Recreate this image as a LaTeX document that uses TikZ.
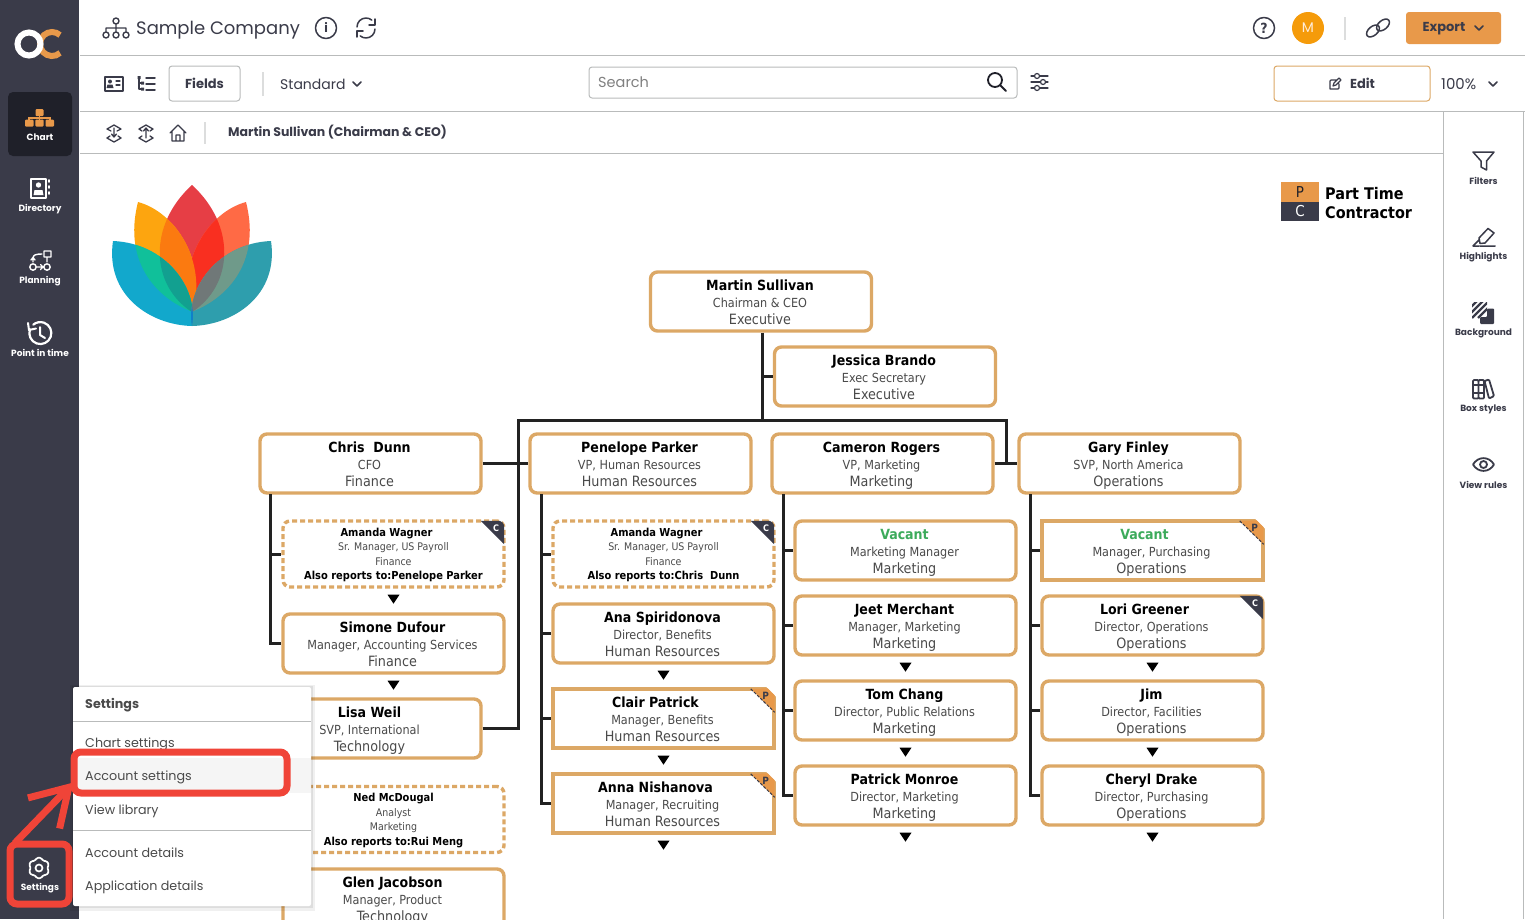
\documentclass[tikz,border=0pt]{standalone}
\usepackage{fontspec}
\setmainfont{DejaVu Sans Condensed}
\newfontfamily\uifont{Poppins}
\usetikzlibrary{arrows.meta,calc}
\definecolor{uidark}{HTML}{3A3B49}
\definecolor{uiblack}{HTML}{1F2029}
\definecolor{tan}{HTML}{DCA866}
\definecolor{uiorange}{HTML}{E8994A}
\definecolor{uigrey}{HTML}{B9BBBB}
\definecolor{redmark}{HTML}{F04438}
\definecolor{linkc}{HTML}{222222}
\definecolor{subtext}{HTML}{4A4A4A}
\definecolor{vacant}{HTML}{3CAB5B}
\definecolor{pY}{HTML}{FDA50F}\definecolor{pC}{HTML}{FF6A45}\definecolor{pR}{HTML}{E63E45}
\definecolor{pYR}{HTML}{FB7A10}\definecolor{pCR}{HTML}{F92F20}
\definecolor{pB}{HTML}{12A8CC}\definecolor{pT}{HTML}{2E9EAD}
\definecolor{pBY}{HTML}{10C09A}\definecolor{pBYR}{HTML}{12A090}
\definecolor{pTC}{HTML}{6F9A8A}\definecolor{pTR}{HTML}{707878}\definecolor{pBT}{HTML}{1080C8}
\tikzset{
  orgbox/.style={draw=tan,line width=3.4pt,rounded corners=7pt,fill=white,minimum width=221pt,minimum height=59pt,inner sep=0pt,align=center,
     font=\fontsize{12.5}{17}\selectfont,text=subtext},
  squarebox/.style={rounded corners=0pt},
  dashbox/.style={orgbox,minimum height=66pt,dash pattern=on 5pt off 3pt,font=\fontsize{10.5}{14.5}\selectfont},
  link/.style={draw=linkc,line width=3pt},
  ico/.style={draw=uidark,line width=1.5pt,line cap=round,line join=round},
  wico/.style={draw=white,line width=1.6pt,line cap=round,line join=round},
  uilabel/.style={inner sep=0pt,text=uidark,yshift=-2pt,font=\uifont\fontsize{14}{16}\selectfont},
  sidelab/.style={inner sep=0pt,text=white,yshift=-1pt,font=\uifont\bfseries\fontsize{9}{11}\selectfont},
  rightlab/.style={inner sep=0pt,text=uidark,font=\uifont\bfseries\fontsize{9}{11}\selectfont},
  menulab/.style={inner sep=0pt,anchor=west,text=subtext,yshift=-2pt,font=\uifont\fontsize{12.7}{16}\selectfont},
  btn/.style={draw=uigrey,line width=1pt,rounded corners=3pt,fill=white,inner sep=0pt},
  legend/.style={inner sep=0pt,anchor=west,text=black,font=\bfseries\fontsize{16}{18}\selectfont},
  redbox/.style={draw=redmark,line width=7pt,rounded corners=7pt,inner sep=0pt},
}
\newcommand\nudge{\hspace*{-2pt}}
\newcommand\nm[1]{{\fontsize{14}{17}\selectfont\bfseries\color{black}\rule{0pt}{16pt}\nudge#1}}
\newcommand\dpt[1]{{\fontsize{14.2}{17}\selectfont\rule[-5pt]{0pt}{5pt}\nudge#1}}
\newcommand\shiftname{\hspace*{-14pt}}
% [opts] name cx cy person title dept
\newcommand\obox[7][]{\node[orgbox,#1] (#2) at (#3,#4) {\nm{#5}\\\nudge#6\\\dpt{#7}};}
\newcommand\dbox[7]{\node[dashbox] (#1) at (#2,#3) {{\fontsize{11}{14.5}\selectfont\bfseries\color{black}\rule{0pt}{13pt}#4}\\#5\\#6\\{\fontsize{11}{14.5}\selectfont\bfseries\color{black}\rule[-5.5pt]{0pt}{5.5pt}Also reports to:#7}};}
\newcommand\ctag[1]{\fill[uidark] ($(#1.north east)+(-25,1.5)$) -- ($(#1.north east)+(-6,1.5)$) to[bend left=25] ($(#1.north east)+(-1.5,6)$) -- ($(#1.north east)+(-1.5,25)$) -- cycle;
  \node[inner sep=0pt,text=white,font=\bfseries\fontsize{9}{9}\selectfont] (#1-c) at ($(#1.north east)+(-9.5,9)$) {C};}
\newcommand\ptag[1]{\fill[white] ($(#1.north east)+(-10,-1)$) -- ($(#1.north east)+(1,-1)$) -- ($(#1.north east)+(1,10)$) -- cycle;
  \fill[uiorange] ($(#1.north east)+(-25,1.5)$) -- ($(#1.north east)+(-8,1)$) -- ($(#1.north east)+(-1,8)$) -- ($(#1.north east)+(-1,25)$) -- cycle;
  \draw[uidark,line width=1pt,dash pattern=on 3pt off 1.5pt] ($(#1.north east)+(-25,1.5)$) -- ($(#1.north east)+(-1,25)$);
  \node[inner sep=0pt,text=uidark,font=\bfseries\fontsize{10}{10}\selectfont] (#1-p) at ($(#1.north east)+(-10,9)$) {P};}
\newcommand\more[1]{\fill[black] ($(#1.south)+(-6,6)$) -- ($(#1.south)+(6,6)$) -- ($(#1.south)+(0,15)$) -- cycle;}
\newcommand\chev[2]{\draw[ico,line width=1.5pt,shift={(#1,#2)}] (-4,-2) -- (0,2) -- (4,-2);}
\def\petY{(138,202) .. controls (175,212) and (207,260) .. (193,312) .. controls (160,300) and (122,265) .. cycle}
\def\petC{(246,202) .. controls (209,212) and (177,260) .. (191,312) .. controls (224,300) and (262,265) .. cycle}
\def\petR{(192,185) .. controls (148,225) and (150,285) .. (192,312) .. controls (234,285) and (236,225) .. cycle}
\def\petB{(113,241) .. controls (165,243) and (199,288) .. (192,326) .. controls (150,325) and (105,295) .. cycle}
\def\petT{(271,241) .. controls (219,243) and (185,288) .. (192,326) .. controls (234,325) and (279,295) .. cycle}
\begin{document}
\begin{tikzpicture}[x=1pt,y=-1pt]
\useasboundingbox (0,0) rectangle (1525,919);
\clip (0,0) rectangle (1525,919);
\fill[white] (0,0) rectangle (1525,919);
% ------------ lotus
\fill[pR] \petR; \fill[pC] \petC; \fill[pY] \petY;
\begin{scope}\clip \petR; \fill[pCR] \petC; \fill[pYR] \petY; \end{scope}
\fill[pB] \petB;
\begin{scope}\clip \petB; \fill[pBY] \petY; \begin{scope}\clip \petY; \fill[pBYR] \petR; \end{scope}\end{scope}
\fill[pT] \petT;
\begin{scope}\clip \petT; \fill[pTC] \petC; \fill[pTR] \petR; \fill[pBT] \petB; \end{scope}
% ------------ legend
\node[fill=uiorange,minimum width=38pt,minimum height=20pt,inner sep=0pt,text=uiblack,font=\fontsize{15}{15}\selectfont] (legP) at (1300,192) {P};
\node[fill=uidark,minimum width=38pt,minimum height=19pt,inner sep=0pt,text=white,font=\fontsize{15}{15}\selectfont] (legC) at (1300,211.5) {C};
\node[legend] (legPt) at (1325,193.5) {Part Time};
\node[legend] (legCt) at (1325,212.5) {Contractor};
% ------------ boxes
\obox{martin}{761}{301.5}{Martin Sullivan}{Chairman \& CEO}{Executive}
\obox{jessica}{885}{376.5}{Jessica Brando}{Exec Secretary}{Executive}
\obox{chris}{370.5}{463.5}{Chris\ \ Dunn}{CFO}{Finance}
\obox{penelope}{640.5}{463.5}{Penelope Parker}{VP, Human Resources}{Human Resources}
\obox{cameron}{882.5}{463.5}{Cameron Rogers}{VP, Marketing}{Marketing}
\obox{gary}{1129.5}{463.5}{Gary Finley}{SVP, North America}{Operations}
\dbox{amandaA}{393.5}{554}{\shiftname Amanda Wagner}{Sr. Manager, US Payroll}{Finance}{Penelope Parker}
\obox{simone}{393.5}{643.5}{Simone Dufour}{Manager, Accounting Services}{Finance}
\obox{lisa}{370.5}{728.5}{Lisa Weil}{SVP, International}{Technology}
\dbox{ned}{393.5}{819.5}{Ned McDougal}{Analyst}{Marketing}{Rui Meng}
\obox{glen}{393.5}{898.5}{Glen Jacobson}{Manager, Product}{Technology}
\dbox{amandaB}{663.5}{554}{\shiftname Amanda Wagner}{Sr. Manager, US Payroll}{Finance}{Chris\ \ Dunn}
\obox{ana}{663.5}{633.5}{Ana Spiridonova}{Director, Benefits}{Human Resources}
\obox[squarebox]{clair}{663.5}{718.5}{\shiftname Clair Patrick}{Manager, Benefits}{Human Resources}
\obox[squarebox]{anna}{663.5}{803.5}{\shiftname Anna Nishanova}{Manager, Recruiting}{Human Resources}
\obox{vacantA}{905.5}{550.5}{\color{vacant}Vacant}{Marketing Manager}{Marketing}
\obox{jeet}{905.5}{625.5}{Jeet Merchant}{Manager, Marketing}{Marketing}
\obox{tom}{905.5}{710.5}{Tom Chang}{Director, Public Relations}{Marketing}
\obox{patrick}{905.5}{795.5}{Patrick Monroe}{Director, Marketing}{Marketing}
\obox[squarebox]{vacantB}{1152.5}{550.5}{\shiftname\color{vacant}Vacant}{Manager, Purchasing}{Operations}
\obox{lori}{1152.5}{625.5}{\shiftname Lori Greener}{Director, Operations}{Operations}
\obox{jim}{1152.5}{710.5}{Jim}{Director, Facilities}{Operations}
\obox{cheryl}{1152.5}{795.5}{Cheryl Drake}{Director, Purchasing}{Operations}
\ctag{amandaA}\ctag{amandaB}\ctag{lori}
\ptag{clair}\ptag{anna}\ptag{vacantB}
\foreach \b in {amandaA,simone,ana,clair,anna,jeet,tom,patrick,lori,jim,cheryl}{\more{\b}}
% ------------ connectors
\coordinate (trunk) at (762,420);
\coordinate (busL) at (518,420);
\coordinate (busR) at (1006,420);
\coordinate (tChris) at (270.5,494);
\coordinate (tLisa) at (270.5,759);
\coordinate (tPen) at (541,494);
\coordinate (tCam) at (783,494);
\coordinate (tGary) at (1030,494);
\draw[link] (martin.south -| trunk) -- (trunk);
\draw[link] (trunk |- jessica.west) -- (jessica.west);
\draw[link,line cap=butt] (lisa.east) -| (busL) -- (busR) |- (gary.west);
\draw[link] (chris.east) -- (penelope.west);
\draw[link] (cameron.east) -- (gary.west);
\draw[link] (tChris) |- (simone.west);
\draw[link] (tChris |- amandaA.west) -- (amandaA.west);
\draw[link] (tLisa) |- (glen.west);
\draw[link] (tPen) |- (anna.west);
\draw[link] (tPen |- amandaB.west) -- (amandaB.west);
\draw[link] (tPen |- ana.west) -- (ana.west);
\draw[link] (tPen |- clair.west) -- (clair.west);
\draw[link] (tCam) |- (patrick.west);
\draw[link] (tCam |- vacantA.west) -- (vacantA.west);
\draw[link] (tCam |- jeet.west) -- (jeet.west);
\draw[link] (tCam |- tom.west) -- (tom.west);
\draw[link] (tGary) |- (cheryl.west);
\draw[link] (tGary |- vacantB.west) -- (vacantB.west);
\draw[link] (tGary |- lori.west) -- (lori.west);
\draw[link] (tGary |- jim.west) -- (jim.west);
% ------------ chrome
\draw[uigrey,line width=1pt] (80,55.5) -- (1525,55.5);
\draw[uigrey,line width=1pt] (80,111.5) -- (1525,111.5);
\draw[uigrey,line width=1pt] (80,153.5) -- (1443.5,153.5);
\draw[uigrey,line width=1pt] (1443.5,111.5) -- (1443.5,919);
\draw[uigrey,line width=1pt] (1523.5,111.5) -- (1523.5,919);
% header
\draw[ico,line width=1.4pt] (116,21) circle (3) (106,35) circle (3) (116,35) circle (3) (126,35) circle (3) (116,24) -- (116,32) (106,32) -- (106,28) -- (126,28) -- (126,32);
\node[uilabel,anchor=west,font=\uifont\fontsize{18}{22}\selectfont] (title) at (136,28) {Sample Company};
\node[ico,circle,minimum size=21pt,inner sep=0pt,text=uidark,font=\bfseries\fontsize{13}{13}\selectfont] (info) at (326,28) {i};
\begin{scope}[shift={(366,28)}]
\draw[ico] (-9,-1) arc[start angle=180,end angle=310,radius=9]; \draw[ico] (9,1) arc[start angle=0,end angle=130,radius=9];
\draw[ico] (9,-9) -- (9,-3) -- (3,-3); \draw[ico] (-9,9) -- (-9,3) -- (-3,3);
\end{scope}
\node[ico,circle,minimum size=21pt,inner sep=0pt,text=uidark,font=\bfseries\fontsize{14}{14}\selectfont] (help) at (1264,28) {?};
\node[circle,fill=orange!75!yellow!85!brown,minimum size=32pt,inner sep=0pt,text=white!85!orange,font=\uifont\fontsize{14}{14}\selectfont] (avatar) at (1308,28) {M};
\draw[uigrey!50,line width=1.5pt] (1345,17) -- (1345,40);
\draw[ico,rotate around={40:(1373,31)}] (1373,31) ellipse [x radius=7.5,y radius=4.5];
\draw[ico,rotate around={40:(1383,25)}] (1383,25) ellipse [x radius=7.5,y radius=4.5];
\node[fill=uiorange,rounded corners=3pt,minimum width=95pt,minimum height=32pt,inner sep=0pt] (export) at (1453.5,28) {};
\node[uilabel,font=\uifont\bfseries\fontsize{13}{15}\selectfont,text=uidark] (exportT) at (1444,27) {Export};
\chev{1479}{28}
% row 2
\draw[ico] (105,77) rectangle (123,91); \fill[uidark] (110,81.5) circle (2) (106.5,88) -- (113.5,88) -- (112.5,84.5) -- (107.5,84.5) -- cycle; \draw[ico,line width=1.2pt] (116,81) -- (120,81) (116,85) -- (120,85);
\draw[ico] (139,77) -- (139,89) -- (141,89) (139,83) -- (141,83) (146,78) -- (155,78) (146,84) -- (155,84) (146,90) -- (155,90); \fill[uidark] (137.5,76) rectangle (140.5,79) (141,81.5) rectangle (144,84.5) (141,87.5) rectangle (144,90.5);
\node[btn,minimum width=71pt,minimum height=35pt,font=\uifont\bfseries\fontsize{13}{15}\selectfont,text=uidark] (fields) at (204.5,83.5) {Fields};
\draw[uigrey!50,line width=1.5pt] (263,72) -- (263,96);
\node[uilabel,anchor=west,font=\uifont\fontsize{14}{17}\selectfont] (standard) at (280,82) {Standard};
\chev{357}{84}
\node[btn,minimum width=428pt,minimum height=31pt] (search) at (803,82.5) {};
\node[uilabel,anchor=west,text=black!50,font=\uifont\fontsize{14.5}{17}\selectfont] (searchT) at (598,80) {Search};
\draw[draw=uiblack,line width=1.8pt,line cap=round] (995,80) circle (7) (1000,85) -- (1006,91);
\draw[ico,line width=1.2pt] (1031,76) -- (1048,76) (1031,82) -- (1048,82) (1031,88) -- (1048,88);
\fill[white] (1037,76) circle (2.5) (1043,82) circle (2.5) (1037,88) circle (2.5);
\draw[ico,line width=1.2pt] (1037,76) circle (2.5) (1043,82) circle (2.5) (1037,88) circle (2.5);
\node[btn,draw=tan,minimum width=156pt,minimum height=35pt] (edit) at (1352,83.5) {};
\draw[ico,line width=1.2pt] (1337,80) -- (1331,80) -- (1330,81) -- (1330,89) -- (1338,89) -- (1339,88) -- (1339,84) (1333,86) -- (1334,83) -- (1339,78) -- (1341,80) -- (1336,85) -- cycle;
\node[uilabel,font=\uifont\bfseries\fontsize{13}{15}\selectfont] (editT) at (1362.5,81) {Edit};
\node[uilabel,anchor=west,font=\uifont\fontsize{15}{17}\selectfont] (zoomT) at (1441,82) {100\%};
\chev{1493}{84}
% row 3
\draw[ico,line width=1.3pt] (107,129) -- (114,125) -- (121,129) -- (117,131) (111,131) -- (107,129) (114,128) -- (114,136) (111.5,134) -- (114,137) -- (116.5,134) (110,136) -- (107,138) -- (114,142) -- (121,138) -- (118,136);
\draw[ico,line width=1.3pt] (139,129) -- (146,125) -- (153,129) -- (150,131) (142,131) -- (139,129) (146,129) -- (146,138) (143.5,131) -- (146,128) -- (148.5,131) (142,136) -- (139,138) -- (146,142) -- (153,138) -- (150,136);
\draw[ico,line width=1.3pt] (170,133) -- (178,125) -- (186,133) (172,131) -- (172,141) -- (184,141) -- (184,131) (176,141) -- (176,135) -- (180,135) -- (180,141);
\draw[uigrey!50,line width=1.5pt] (205,122) -- (205,144);
\node[uilabel,anchor=west,font=\uifont\bfseries\fontsize{12.5}{15}\selectfont] (crumb) at (228,130.5) {Martin Sullivan (Chairman \& CEO)};
% right panel
\draw[ico] (1473,152) -- (1494,152) -- (1486.5,161) -- (1486.5,170) -- (1481,167) -- (1481,161) -- cycle;
\node[rightlab] (rFilters) at (1483.5,181) {Filters};
\draw[ico] (1480,246) -- (1495,246) (1479,238) -- (1488,228.5) -- (1494,233) -- (1485,243) -- (1480,243.5) -- cycle (1479,240) -- (1473,246) -- (1479,246);
\node[rightlab] (rHigh) at (1483.5,257) {Highlights};
\begin{scope}\clip (1472,302) rectangle (1487,318);
\draw[uidark,line width=2.3pt] (1468,310) -- (1478,300) (1468,316) -- (1484,300) (1472,318) -- (1490,300) (1478,318) -- (1490,306);
\end{scope}
\fill[uidark,rounded corners=1pt] (1487,308.5) -- (1494,308.5) -- (1494,324) -- (1480,324) -- (1480,317) -- (1487,317) -- cycle;
\node[rightlab] (rBack) at (1483.5,333) {Background};
\draw[ico,line width=1.8pt,rounded corners=1pt] (1473,380) rectangle (1478.5,398.5) (1478.5,380) rectangle (1484,398.5) (1484.5,381) -- (1489,379.5) -- (1494,396) -- (1489,398.5) -- cycle (1473,385) -- (1484,385) (1473,393) -- (1484,393);
\node[rightlab] (rBox) at (1483.5,409) {Box styles};
\draw[ico,line width=1.8pt] (1473,464.5) .. controls (1478,456) and (1489,456) .. (1494,464.5) .. controls (1489,473) and (1478,473) .. cycle;
\draw[ico,line width=1.8pt] (1483.5,464.5) circle (3.5);
\node[rightlab] (rView) at (1483.5,485) {View rules};
% ------------ sidebar
\fill[uidark] (0,0) rectangle (79,919);
\draw[uiorange,line width=6pt] (52,44) ++(48:12) arc[start angle=48,end angle=312,radius=12];
\draw[white,line width=6pt] (29,44) circle (11.5);
\node[fill=uiblack,rounded corners=5pt,minimum width=64pt,minimum height=64pt,inner sep=0pt] (chartBtn) at (40,124) {};
\begin{scope}[shift={(39.5,118)}]
\draw[uiorange,line width=1.3pt] (0,0) -- (0,-3) (-10.5,5) -- (-10.5,0) -- (10.5,0) -- (10.5,5) (0,-3) -- (0,5);
\fill[uiorange,rounded corners=1pt] (-4,-9) rectangle (4,-2) (-14.5,1.5) rectangle (-6,8.5) (-4.2,1.5) rectangle (4.2,8.5) (6,1.5) rectangle (14.5,8.5);
\end{scope}
\node[sidelab] (sChart) at (40,136) {Chart};
\draw[wico] (31,179) rectangle (46,198); \draw[wico] (49,180) -- (49,182) (49,186) -- (49,188) (49,192) -- (49,194);
\fill[white] (38.5,185) circle (2.7) (33.5,195) -- (43.5,195) -- (42.5,190) -- (34.5,190) -- cycle;
\node[sidelab] (sDir) at (40,208) {Directory};
\draw[wico,line width=1.4pt] (44,251) rectangle (51,257) (33,267) circle (3.2) (47,267) circle (3.2) (37,267) -- (43,267) (40.5,264.5) -- (43,267) -- (40.5,269.5) (31,260) -- (33,257.5) -- (35,260) (33,258) -- (33,262) (33,258) .. controls (33,255) and (36,254) .. (42,254) (47,262) -- (47,258);
\node[sidelab] (sPlan) at (40,280) {Planning};
\draw[wico,line width=2.2pt] (30,329.3) arc[start angle=200,end angle=-130,radius=11];
\draw[wico,line width=2pt] (28,323) -- (29,330) -- (36,328.5) (40,327) -- (40,335) -- (45,338);
\node[sidelab] (sTime) at (40,352) {Point in time};
% settings button
\node[redbox,minimum width=59pt,minimum height=60pt,fill=uidark] (redSettings) at (39.5,874) {};
\begin{scope}[shift={(39,868)}]
\draw[wico,line width=1.7pt,rounded corners=1.5pt] (17:10.5) -- (43:10.5) -- (60:8) -- (77:10.5) -- (103:10.5) -- (120:8) -- (137:10.5) -- (163:10.5) -- (180:8) -- (197:10.5) -- (223:10.5) -- (240:8) -- (257:10.5) -- (283:10.5) -- (300:8) -- (317:10.5) -- (343:10.5) -- (0:8) -- cycle;
\draw[wico,line width=1.7pt] (0,0) circle (3.5);
\end{scope}
\node[sidelab] (sSet) at (40,887) {Settings};
% ------------ menu
\fill[black,opacity=.06] (70,685) rectangle (315,911);
\fill[black,opacity=.08] (72,686) rectangle (313,908);
\node[fill=white,rounded corners=2pt,minimum width=238pt,minimum height=219pt,inner sep=0pt] (menu) at (192,796.5) {};
\fill[black!4] (73,758) rectangle (311,793);
\draw[uigrey,line width=1pt] (73,721.5) -- (311,721.5) (73,830.5) -- (311,830.5);
\node[menulab,font=\uifont\bfseries\fontsize{12.7}{16}\selectfont] (mHead) at (85,703) {Settings};
\node[menulab] (m1) at (85,742) {Chart settings};
\node[menulab] (m2) at (85,775) {Account settings};
\node[menulab] (m3) at (85,809) {View library};
\node[menulab] (m4) at (85,851) {Account details};
\node[menulab] (m5) at (85,885) {Application details};
\node[redbox,minimum width=213pt,minimum height=41pt] (redAccount) at (180.5,772.5) {};
\draw[redmark,line width=7pt,-{Straight Barb[length=36pt,width=44pt,line width=7pt]}] ($(redSettings.north west)+(8,3)$) -- ($(redAccount.west)+(3,10)$);
\end{tikzpicture}
\end{document}
